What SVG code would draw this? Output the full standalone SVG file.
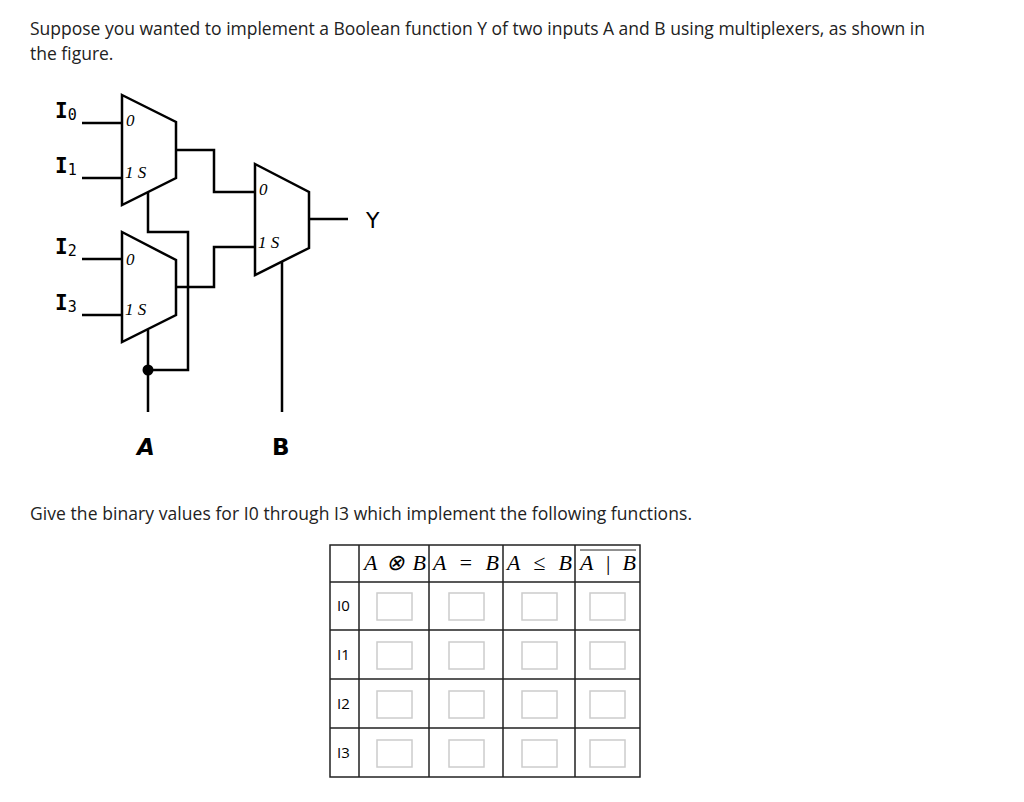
<svg xmlns="http://www.w3.org/2000/svg" width="1024" height="802" viewBox="0 0 1024 802">
<style>
.t{font-family:"Open Sans","DejaVu Sans",sans-serif;font-size:17.5px;fill:#222}
.w{fill:none;stroke:#000;stroke-width:2.5}
.m{fill:#fff;stroke:#000;stroke-width:2.5}
.ml{font-family:"Liberation Serif",serif;font-style:italic;font-size:17px}
.il{font-family:"DejaVu Sans Mono",monospace;font-weight:bold;font-size:21px}
.h{font-family:"Liberation Serif",serif;font-style:italic;font-size:22px}
.g{fill:#fff;stroke:#ccc;stroke-width:1.5}
.c{font-family:"Open Sans",sans-serif;font-size:15px}
</style>
<rect width="1024" height="802" fill="#fff"/>
<text class="t" x="30" y="35" textLength="895">Suppose you wanted to implement a Boolean function Y of two inputs A and B using multiplexers, as shown in</text>
<text class="t" x="30" y="60">the figure.</text>
<g id="connectors">
<path class="w" d="M82 123H122M82 178H122M82 259H122M82 315H122"/>
<path class="w" d="M176 150H214V192H255M176 287H214V247H255"/>
<path class="w" d="M148 192V232H188V370H148M148 330V412M282 262V412M309 219H348"/>
<circle cx="148" cy="370" r="5.5" fill="#000"/>
</g>
<g id="mux0"><polygon class="m" points="122,95 176,122 176,178 122,205"/><text class="ml" x="126" y="126">0</text><text class="ml" x="125" y="178">1 S</text></g>
<g id="mux1"><polygon class="m" points="122,232 176,260 176,315 122,342"/><text class="ml" x="126" y="265">0</text><text class="ml" x="125" y="315">1 S</text></g>
<g id="mux2"><polygon class="m" points="255,164 309,192 309,248 255,275"/><text class="ml" x="259" y="195">0</text><text class="ml" x="258" y="248">1 S</text></g>
<g id="labels">
<text class="il" x="55" y="118">I<tspan font-size="15" font-weight="normal" dy="2">0</tspan></text>
<text class="il" x="55" y="173">I<tspan font-size="15" font-weight="normal" dy="2">1</tspan></text>
<text class="il" x="55" y="254">I<tspan font-size="15" font-weight="normal" dy="2">2</tspan></text>
<text class="il" x="55" y="310">I<tspan font-size="15" font-weight="normal" dy="2">3</tspan></text>
<text x="366" y="228" font-family="DejaVu Sans" font-size="22">Y</text>
<text x="137" y="455" font-family="DejaVu Sans" font-style="italic" font-weight="bold" font-size="23">A</text>
<text x="272" y="455" font-family="DejaVu Sans" font-weight="bold" font-size="23">B</text>
</g>
<text class="t" x="30" y="520" textLength="662">Give the binary values for I0 through I3 which implement the following functions.</text>
<g id="table">
<rect x="330" y="545" width="310" height="232" fill="none" stroke="#222" stroke-width="1.5"/>
<path d="M359 545V777M429 545V777M503 545V777M575 545V777M330 582H640M330 630H640M330 679H640M330 728H640" stroke="#222" stroke-width="1.5"/>
<text class="h" x="364" y="570" textLength="62">A ⊗ B</text>
<text class="h" x="433" y="570" textLength="66">A = B</text>
<text class="h" x="507" y="570" textLength="65">A ≤ B</text>
<text class="h" x="580" y="570" textLength="56">A | B</text>
<line x1="580" y1="550" x2="636" y2="550" stroke="#222" stroke-width="1"/>
<text class="c" x="337" y="611">I0</text><text class="c" x="337" y="660">I1</text><text class="c" x="337" y="709">I2</text><text class="c" x="337" y="758">I3</text>
<rect class="g" x="377" y="593" width="35" height="27"/><rect class="g" x="449" y="593" width="35" height="27"/><rect class="g" x="522" y="593" width="35" height="27"/><rect class="g" x="590" y="593" width="35" height="27"/>
<rect class="g" x="377" y="642" width="35" height="27"/><rect class="g" x="449" y="642" width="35" height="27"/><rect class="g" x="522" y="642" width="35" height="27"/><rect class="g" x="590" y="642" width="35" height="27"/>
<rect class="g" x="377" y="691" width="35" height="27"/><rect class="g" x="449" y="691" width="35" height="27"/><rect class="g" x="522" y="691" width="35" height="27"/><rect class="g" x="590" y="691" width="35" height="27"/>
<rect class="g" x="377" y="740" width="35" height="27"/><rect class="g" x="449" y="740" width="35" height="27"/><rect class="g" x="522" y="740" width="35" height="27"/><rect class="g" x="590" y="740" width="35" height="27"/>
</g>
</svg>
